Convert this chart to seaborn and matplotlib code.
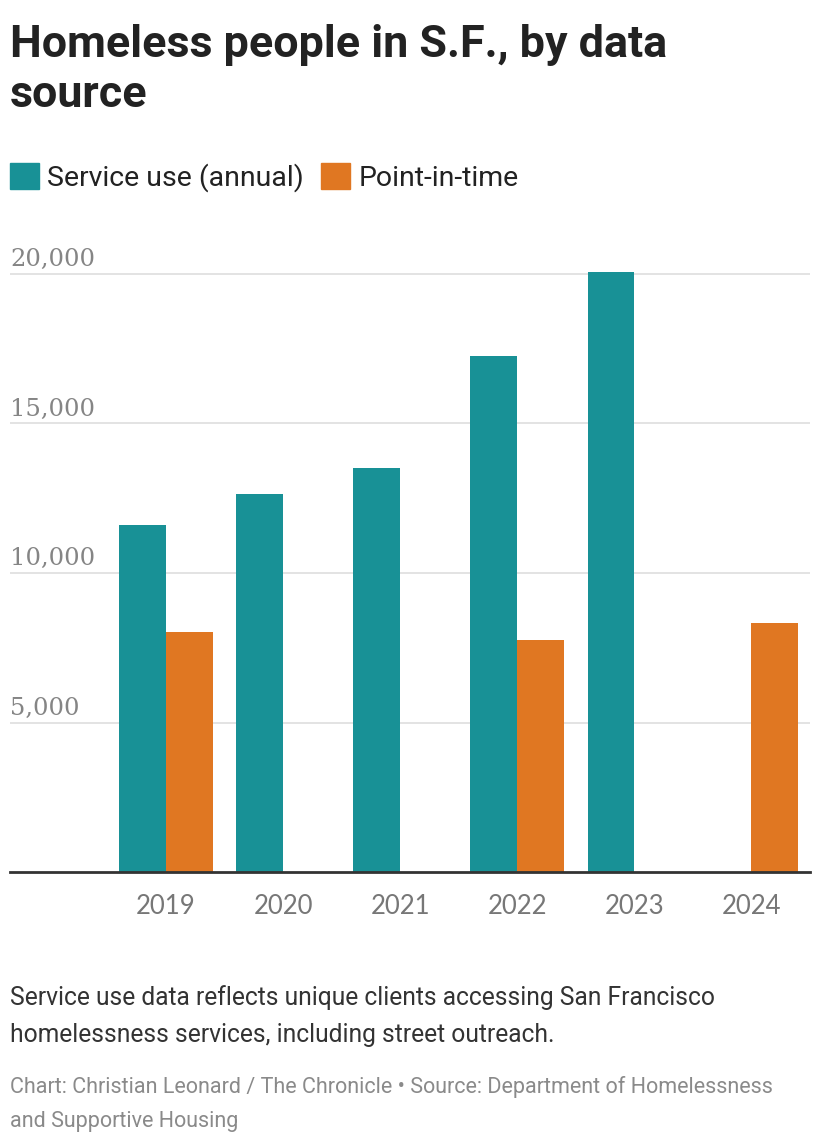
import numpy as np
import pandas as pd
import matplotlib
matplotlib.use("Agg")
import matplotlib.pyplot as plt
import matplotlib.transforms as mtransforms
import seaborn as sns

years = ["2019", "2020", "2021", "2022", "2023", "2024"]
service_use = [11600, 12640, 13510, 17250, 20060, np.nan]
point_in_time = [8035, np.nan, np.nan, 7754, np.nan, 8323]
series_names = ["Service use (annual)", "Point-in-time"]
y_ticks = [5000, 10000, 15000, 20000]
y_tick_labels = ["5,000", "10,000", "15,000", "20,000"]
colors = ["#189196", "#E07722"]

title_lines = ["Homeless people in S.F., by data", "source"]
note_lines = ["Service use data reflects unique clients accessing San Francisco",
              "homelessness services, including street outreach."]
credit_lines = ["Chart: Christian Leonard / The Chronicle \u2022 Source: Department of Homelessness",
                "and Supportive Housing"]

df = pd.DataFrame({
    "year": years * 2,
    "series": [series_names[0]] * len(years) + [series_names[1]] * len(years),
    "value": service_use + point_in_time,
})

sns.set_theme(style="white")
SANS = ["Roboto", "DejaVu Sans"]
plt.rcParams["font.family"] = SANS

W, H = 820, 1148
fig = plt.figure(figsize=(W / 100, H / 100), dpi=100)
fig.patch.set_facecolor("white")

def fx(px):
    return px / W

def fy(py):
    return 1 - py / H

ymax = 20200
ax_bottom_px = 872
ax_top_px = 872 - ymax * (598 / 20000)
ax = fig.add_axes([fx(10), fy(ax_bottom_px), fx(800), (ax_bottom_px - ax_top_px) / H])

sns.barplot(data=df, x="year", y="value", hue="series", order=years,
            hue_order=series_names, palette=colors, width=0.8, saturation=1,
            dodge=True, ax=ax, legend=False, linewidth=0)

ax.set_xlim(-1.333, 5.5)
ax.set_ylim(0, ymax)
ax.set_yticks(y_ticks)
ax.set_yticklabels([])
ax.yaxis.grid(True, color="#e3e3e3", linewidth=1.4)
ax.set_axisbelow(True)
for s in ["top", "right", "left"]:
    ax.spines[s].set_visible(False)
ax.spines["bottom"].set_color("#333333")
ax.spines["bottom"].set_linewidth(2)
ax.tick_params(axis="both", length=0)
ax.tick_params(axis="x", pad=16)
ax.set_xlabel("")
ax.set_ylabel("")
for lbl in ax.get_xticklabels():
    lbl.set_fontfamily(["Lato", "DejaVu Sans"])
    lbl.set_fontsize(18.5)
    lbl.set_color("#777777")

trans = mtransforms.blended_transform_factory(ax.transAxes, ax.transData)
trans = mtransforms.offset_copy(trans, fig=fig, y=8, units="dots")
for v, t in zip(y_ticks, y_tick_labels):
    ax.text(0, v, t, transform=trans, ha="left", va="baseline",
            fontsize=17.5, color="#858585", family=["DejaVu Serif"],
            fontweight="light")

# Title
fig.text(fx(10), fy(57), title_lines[0], ha="left", va="baseline",
         fontsize=32.3, fontweight="bold", color="#222222", family=SANS)
fig.text(fx(10), fy(107), title_lines[1], ha="left", va="baseline",
         fontsize=32.3, fontweight="bold", color="#222222", family=SANS)

# Legend
handles = [plt.Rectangle((0, 0), 1, 1, color=c) for c in colors]
leg = fig.legend(handles, series_names, loc="upper left",
                 bbox_to_anchor=(fx(-1), fy(152)), ncol=2, frameon=False,
                 handlelength=1.0, handleheight=1.0,
                 handletextpad=0.3, columnspacing=0.6, borderaxespad=0,
                 prop={"family": SANS, "size": 20.5})
for t in leg.get_texts():
    t.set_color("#222222")

# Note and credits
fig.text(fx(10), fy(1005), note_lines[0], ha="left", va="baseline",
         fontsize=17.75, color="#333333", family=SANS)
fig.text(fx(10), fy(1042), note_lines[1], ha="left", va="baseline",
         fontsize=17.75, color="#333333", family=SANS)
fig.text(fx(10), fy(1093), credit_lines[0], ha="left", va="baseline",
         fontsize=15.5, color="#8a8a8a", family=SANS)
fig.text(fx(10), fy(1127), credit_lines[1], ha="left", va="baseline",
         fontsize=15.5, color="#8a8a8a", family=SANS)

fig.savefig("out.png", dpi=100, facecolor="white")
